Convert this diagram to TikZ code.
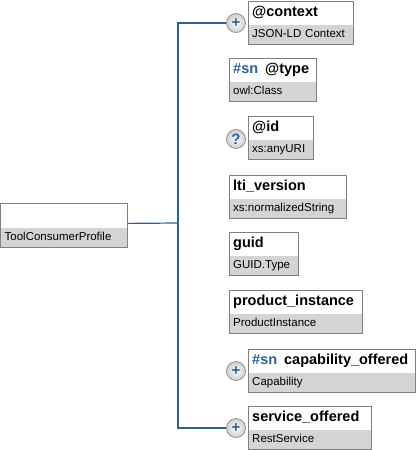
\documentclass[tikz,border=0pt]{standalone}
\usepackage{fontspec}
\setsansfont{Liberation Sans}
\renewcommand{\familydefault}{\sfdefault}

\definecolor{busblue}{RGB}{46,96,152}
\definecolor{boxgray}{RGB}{128,128,128}
\definecolor{typegray}{RGB}{212,212,212}
\definecolor{btngray}{RGB}{150,150,150}
\definecolor{btnfill}{RGB}{205,205,205}

\begin{document}
\begin{tikzpicture}[x=1pt, y=-1pt,
  bus/.style={draw=busblue, line width=1.2pt},
  boxline/.style={draw=boxgray, line width=1pt},
  namepart/.style={anchor=north west, fill=white, minimum height=23pt,
    inner xsep=4pt, inner ysep=0pt, align=left, text height=10pt,
    text depth=3pt, font=\fontsize{14.5}{16}\selectfont\bfseries},
  typepart/.style={anchor=north west, fill=typegray, minimum height=20pt,
    inner xsep=4pt, inner ysep=0pt, align=left, text height=8pt,
    text depth=2.5pt, font=\fontsize{11.5}{13}\selectfont},
  btn/.style={circle, draw=btngray, line width=0.8pt, inner color=white,
    outer color=btnfill, minimum size=19pt, inner sep=0pt, text=busblue,
    font=\fontsize{15}{15}\selectfont\bfseries}
]
  \useasboundingbox (0,0) rectangle (417,450);

  % Root element
  \node[namepart, text width=119pt, minimum height=24pt] (root) at (0.5,203) {};
  \node[typepart, text width=119pt] (root-t) at (root.south west) {ToolConsumerProfile};
  \draw[boxline] (root.north west) rectangle (root-t.south east);

  % Children
  \node[namepart, text width=97pt] (ctx) at (248,1) {@context};
  \node[typepart, text width=97pt] (ctx-t) at (ctx.south west) {JSON-LD Context};
  \draw[boxline] (ctx.north west) rectangle (ctx-t.south east);

  \node[namepart, text width=79pt] (typ) at (229,58)
    {{\color{busblue}\#sn}\hspace{7pt}@type};
  \node[typepart, text width=79pt] (typ-t) at (typ.south west) {owl:Class};
  \draw[boxline] (typ.north west) rectangle (typ-t.south east);

  \node[namepart, text width=57pt] (id) at (248,116) {@id};
  \node[typepart, text width=57pt] (id-t) at (id.south west) {xs:anyURI};
  \draw[boxline] (id.north west) rectangle (id-t.south east);

  \node[namepart, text width=109pt] (lti) at (229,175) {lti\_version};
  \node[typepart, text width=109pt] (lti-t) at (lti.south west) {xs:normalizedString};
  \draw[boxline] (lti.north west) rectangle (lti-t.south east);

  \node[namepart, text width=61pt] (guid) at (229,232) {guid};
  \node[typepart, text width=61pt] (guid-t) at (guid.south west) {GUID.Type};
  \draw[boxline] (guid.north west) rectangle (guid-t.south east);

  \node[namepart, text width=125pt] (prod) at (229,290) {product\_instance};
  \node[typepart, text width=125pt] (prod-t) at (prod.south west) {ProductInstance};
  \draw[boxline] (prod.north west) rectangle (prod-t.south east);

  \node[namepart, text width=159pt] (cap) at (248,349)
    {{\color{busblue}\#sn}\hspace{7pt}capability\_offered};
  \node[typepart, text width=159pt] (cap-t) at (cap.south west) {Capability};
  \draw[boxline] (cap.north west) rectangle (cap-t.south east);

  \node[namepart, text width=115pt] (svc) at (248,406) {service\_offered};
  \node[typepart, text width=115pt] (svc-t) at (svc.south west) {RestService};
  \draw[boxline] (svc.north west) rectangle (svc-t.south east);

  % Bus
  \coordinate (bus) at (178,223);
  \node[btn] (ctx-b) at (236,23) {+};
  \node[btn] (svc-b) at (236,428) {+};
  \draw[bus] ([yshift=4pt]root.south east) -- (bus);
  \draw[bus] (ctx-b.west) -- (ctx-b.west -| bus) -- (svc-b.west -| bus) -- (svc-b.west);

  % Other buttons
  \node[btn] (id-b) at (236,139) {?};
  \node[btn] (cap-b) at (236,371) {+};

\end{tikzpicture}
\end{document}
